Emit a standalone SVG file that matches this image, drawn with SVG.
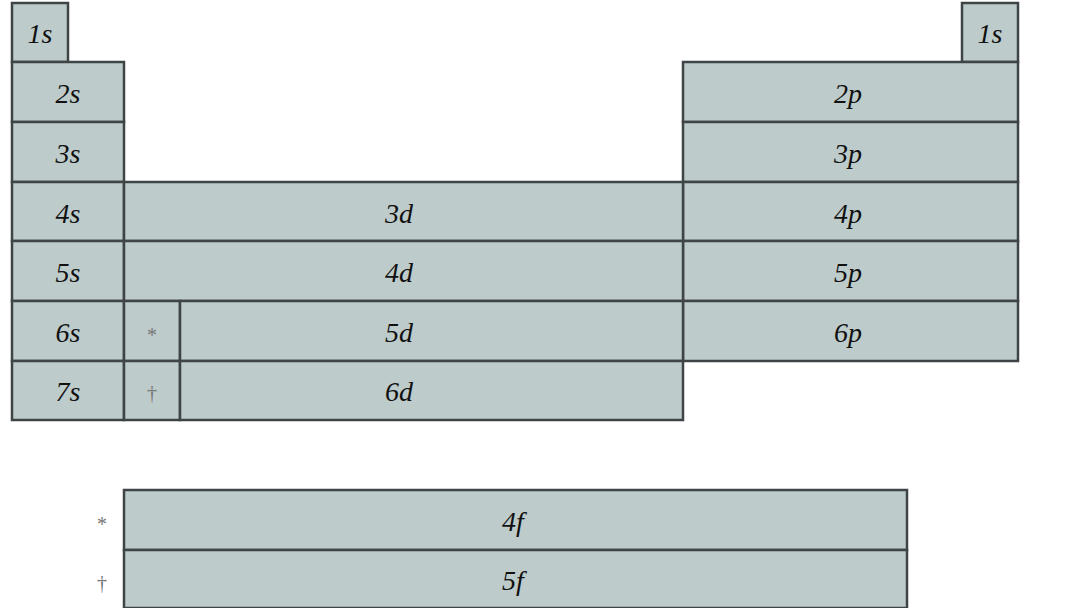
<svg xmlns="http://www.w3.org/2000/svg" width="1072" height="608" viewBox="0 0 1072 608">
<style>
.c{fill:#bdcbcb;stroke:#3f4546;stroke-width:2.5}
.t{font-family:"Liberation Serif","DejaVu Serif",serif;font-style:italic;font-size:28px;fill:#111;text-anchor:middle}
.m{font-family:"Liberation Serif","DejaVu Serif",serif;font-size:20px;fill:#777;text-anchor:middle}
</style>
<rect width="1072" height="608" fill="#fff"/>
<g id="s1a"><rect class="c" x="12" y="3" width="56" height="59"/><text class="t" x="40" y="43">1s</text></g>
<g id="s1b"><rect class="c" x="962" y="3" width="56" height="59"/><text class="t" x="990" y="43">1s</text></g>
<g id="s2"><rect class="c" x="12" y="62" width="112" height="60"/><text class="t" x="68" y="103">2s</text></g>
<g id="s3"><rect class="c" x="12" y="122" width="112" height="60"/><text class="t" x="68" y="163">3s</text></g>
<g id="s4"><rect class="c" x="12" y="182" width="112" height="59"/><text class="t" x="68" y="223">4s</text></g>
<g id="s5"><rect class="c" x="12" y="241" width="112" height="60"/><text class="t" x="68" y="282">5s</text></g>
<g id="s6"><rect class="c" x="12" y="301" width="112" height="60"/><text class="t" x="68" y="342">6s</text></g>
<g id="s7"><rect class="c" x="12" y="361" width="112" height="59"/><text class="t" x="68" y="401">7s</text></g>
<g id="p2"><rect class="c" x="683" y="62" width="335" height="60"/><text class="t" x="848" y="103">2p</text></g>
<g id="p3"><rect class="c" x="683" y="122" width="335" height="60"/><text class="t" x="848" y="163">3p</text></g>
<g id="p4"><rect class="c" x="683" y="182" width="335" height="59"/><text class="t" x="848" y="223">4p</text></g>
<g id="p5"><rect class="c" x="683" y="241" width="335" height="60"/><text class="t" x="848" y="282">5p</text></g>
<g id="p6"><rect class="c" x="683" y="301" width="335" height="60"/><text class="t" x="848" y="342">6p</text></g>
<g id="d3"><rect class="c" x="124" y="182" width="559" height="59"/><text class="t" x="399" y="223">3d</text></g>
<g id="d4"><rect class="c" x="124" y="241" width="559" height="60"/><text class="t" x="399" y="282">4d</text></g>
<g id="star1"><rect class="c" x="124" y="301" width="56" height="60"/><text class="m" x="152" y="342">*</text></g>
<g id="dag1"><rect class="c" x="124" y="361" width="56" height="59"/><text class="m" x="152" y="400">†</text></g>
<g id="d5"><rect class="c" x="180" y="301" width="503" height="60"/><text class="t" x="399" y="342">5d</text></g>
<g id="d6"><rect class="c" x="180" y="361" width="503" height="59"/><text class="t" x="399" y="401">6d</text></g>
<g id="f4"><rect class="c" x="124" y="490" width="783" height="60"/><text class="t" x="513" y="531">4f</text></g>
<g id="f5"><rect class="c" x="124" y="550" width="783" height="58"/><text class="t" x="513" y="590">5f</text></g>
<g id="star2"><text class="m" x="102" y="531">*</text></g>
<g id="dag2"><text class="m" x="102" y="590">†</text></g>
<g id="connectors"></g>
</svg>
